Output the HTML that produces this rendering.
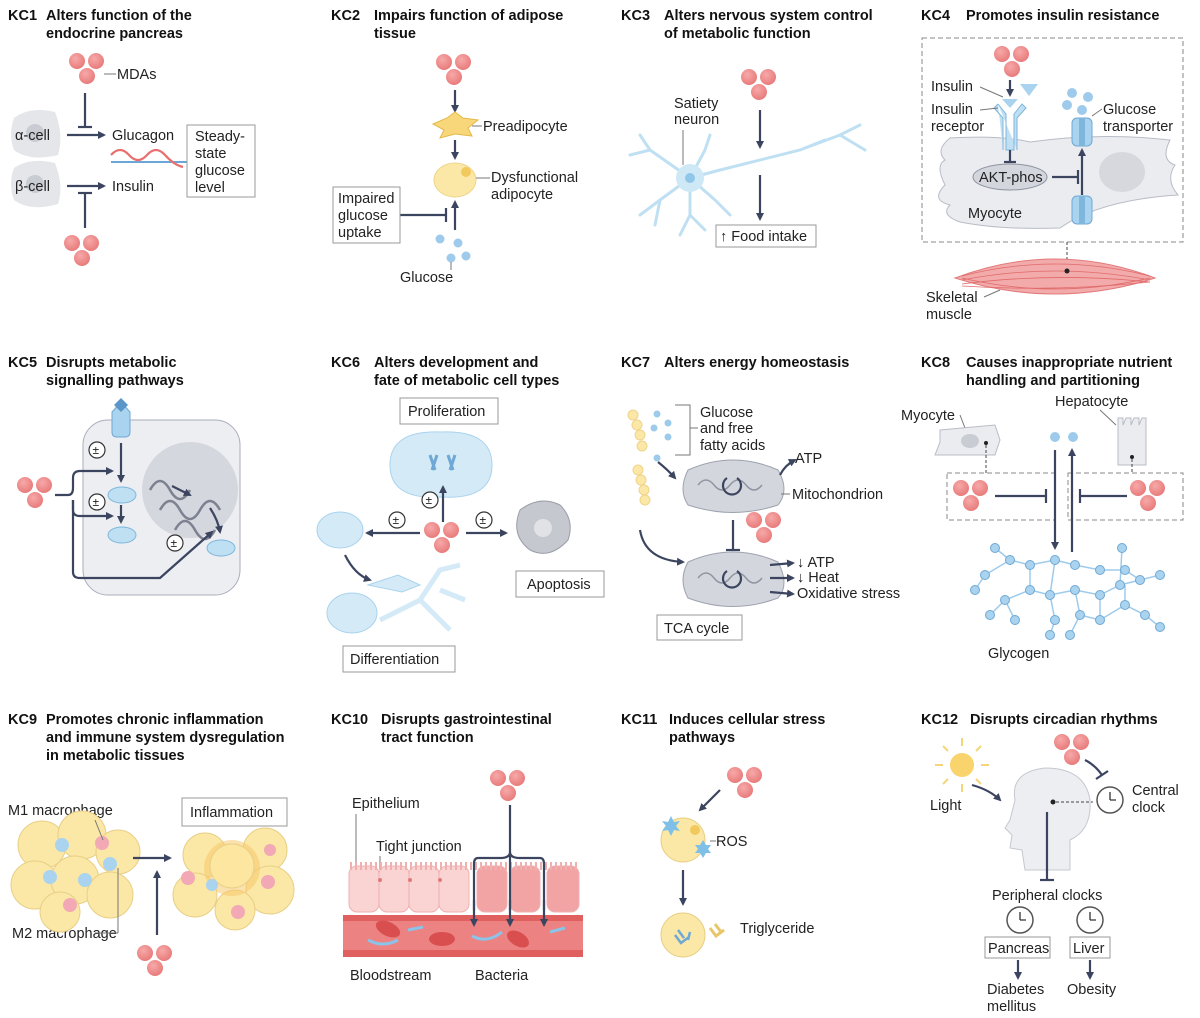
<!DOCTYPE html>
<html><head><meta charset="utf-8"><style>
html,body{margin:0;padding:0;background:#fff}
svg{display:block}
text{font-family:"Liberation Sans",sans-serif;font-size:14.5px;fill:#222}
.t{font-weight:bold;font-size:14.5px;fill:#111}
.a{stroke:#3c4560;stroke-width:2.2;fill:none}
.box{fill:#fff;stroke:#999;stroke-width:1}
.ln{stroke:#777;stroke-width:1;fill:none}
</style></head><body>
<svg width="1200" height="1018" viewBox="0 0 1200 1018" xmlns="http://www.w3.org/2000/svg">
<defs>
<marker id="ar" markerWidth="8" markerHeight="8" refX="6" refY="4" orient="auto" markerUnits="userSpaceOnUse"><path d="M0,0 L8,4 L0,8 z" fill="#3c4560"/></marker>
<radialGradient id="rg" cx="0.4" cy="0.35" r="0.7"><stop offset="0" stop-color="#f7a9a9"/><stop offset="1" stop-color="#e77878"/></radialGradient>
<g id="m"><circle cx="0" cy="0" r="8" fill="url(#rg)"/><circle cx="19" cy="0" r="8" fill="url(#rg)"/><circle cx="10" cy="15" r="8" fill="url(#rg)"/></g>
<g id="pm"><circle r="8" fill="#fff" stroke="#333" stroke-width="1.2"/><text x="-4.5" y="4" style="font-size:12px">±</text></g>
<g id="clk"><circle r="13" fill="#fff" stroke="#555" stroke-width="1.5"/><path d="M0,0 V-8 M0,0 H6" stroke="#333" stroke-width="1.3"/></g>
</defs>

<!-- KC1 -->
<text class="t" x="8" y="20">KC1</text><text class="t" x="46" y="20">Alters function of the</text><text class="t" x="46" y="38">endocrine pancreas</text>
<use href="#m" x="77" y="61"/><line class="ln" x1="104" y1="74" x2="116" y2="74"/><text x="117" y="79">MDAs</text>
<path d="M14,118 Q30,106 55,112 Q64,135 58,155 Q30,162 14,150 Q8,134 14,118z" fill="#e4e6ea"/><circle cx="35" cy="133" r="9" fill="#c9ccd3"/><text x="15" y="140">α-cell</text>
<path d="M14,168 Q30,157 55,163 Q64,186 58,204 Q30,212 14,200 Q8,184 14,168z" fill="#e4e6ea"/><circle cx="35" cy="184" r="9" fill="#c9ccd3"/><text x="15" y="191">β-cell</text>
<line class="a" x1="67" y1="135" x2="104" y2="135" marker-end="url(#ar)"/><text x="112" y="140">Glucagon</text>
<line class="a" x1="85" y1="93" x2="85" y2="127"/><line class="a" x1="78" y1="127" x2="92" y2="127"/>
<line class="a" x1="67" y1="186" x2="104" y2="186" marker-end="url(#ar)"/><text x="112" y="191">Insulin</text>
<line class="a" x1="85" y1="228" x2="85" y2="193"/><line class="a" x1="78" y1="193" x2="92" y2="193"/>
<use href="#m" x="72" y="243"/>
<line x1="111" y1="162" x2="187" y2="162" stroke="#6aa6d8" stroke-width="2"/>
<path d="M111,155 q9,-10 18,0 t18,0 t18,0 t18,12" stroke="#e76f6f" stroke-width="2.2" fill="none"/>
<path d="M111,155 q9,10 0,0" fill="none"/>
<rect class="box" x="187" y="125" width="68" height="72"/><text x="195" y="141">Steady-</text><text x="195" y="158">state</text><text x="195" y="175">glucose</text><text x="195" y="192">level</text>

<!-- KC2 -->
<text class="t" x="331" y="20">KC2</text><text class="t" x="374" y="20">Impairs function of adipose</text><text class="t" x="374" y="38">tissue</text>
<use href="#m" x="444" y="62"/>
<line class="a" x1="455" y1="90" x2="455" y2="111" marker-end="url(#ar)"/>
<path d="M433,124 L447,118 L455,112 L463,118 L478,120 L468,128 L472,136 L455,134 L440,138 L444,130z" fill="#f7d77a" stroke="#e4b94a"/>
<line class="ln" x1="472" y1="126" x2="482" y2="126"/><text x="483" y="131">Preadipocyte</text>
<line class="a" x1="455" y1="140" x2="455" y2="158" marker-end="url(#ar)"/>
<ellipse cx="455" cy="180" rx="21" ry="17" fill="#fbe7a6" stroke="#eed58a"/><circle cx="466" cy="172" r="5" fill="#f2c95e"/>
<line class="ln" x1="476" y1="178" x2="490" y2="178"/><text x="491" y="182">Dysfunctional</text><text x="491" y="199">adipocyte</text>
<line class="a" x1="455" y1="230" x2="455" y2="202" marker-end="url(#ar)"/>
<line class="a" x1="400" y1="215" x2="446" y2="215"/><line class="a" x1="446" y1="208" x2="446" y2="222"/>
<rect class="box" x="333" y="187" width="67" height="56"/><text x="338" y="203">Impaired</text><text x="338" y="220">glucose</text><text x="338" y="237">uptake</text>
<g fill="#9ecbeb"><circle cx="440" cy="239" r="4.5"/><circle cx="458" cy="243" r="4.5"/><circle cx="466" cy="256" r="4.5"/><circle cx="451" cy="258" r="4.5"/></g>
<line class="ln" x1="451" y1="262" x2="451" y2="270"/><text x="400" y="282">Glucose</text>

<!-- KC3 -->
<text class="t" x="621" y="20">KC3</text><text class="t" x="664" y="20">Alters nervous system control</text><text class="t" x="664" y="38">of metabolic function</text>
<text x="674" y="108">Satiety</text><text x="674" y="124">neuron</text><line class="ln" x1="683" y1="130" x2="683" y2="165"/>
<g stroke="#bfe0f3" stroke-width="3" fill="none" stroke-linecap="round">
<path d="M690,178 L650,150 L640,135 M650,150 L630,155 M690,178 L660,200 L640,215 M660,200 L655,225 M690,178 L690,215 L680,235 M690,215 L705,230 M690,178 L705,150 L710,135 M690,178 L720,170 L800,150 L840,135 L860,125 M840,135 L865,150 M800,150 L825,140 M690,178 L715,200 L730,215"/>
</g>
<circle cx="690" cy="178" r="14" fill="#cfe8f6"/><circle cx="690" cy="178" r="5" fill="#8fc6ea"/>
<use href="#m" x="749" y="77"/>
<line class="a" x1="760" y1="110" x2="760" y2="147" marker-end="url(#ar)"/>
<line class="a" x1="760" y1="175" x2="760" y2="219" marker-end="url(#ar)"/>
<rect class="box" x="716" y="225" width="100" height="22"/><text x="720" y="241">↑ Food intake</text>

<!-- KC4 -->
<text class="t" x="921" y="20">KC4</text><text class="t" x="966" y="20">Promotes insulin resistance</text>
<rect x="922" y="38" width="261" height="204" fill="none" stroke="#888" stroke-dasharray="5,3"/>
<path d="M950,138 Q1000,135 1030,142 Q1100,132 1170,140 Q1160,160 1175,165 Q1165,180 1178,195 Q1100,200 1060,228 Q1000,230 960,222 Q940,215 950,205 Q930,200 945,185 Q935,165 945,160 Q935,150 950,138z" fill="#eaecf0" stroke="#b8bcc6"/>
<ellipse cx="1122" cy="172" rx="23" ry="20" fill="#d6d8de"/>
<use href="#m" x="1002" y="54"/>
<line class="a" x1="1010" y1="80" x2="1010" y2="95" marker-end="url(#ar)"/>
<path d="M1002,99 L1018,99 L1010,108z" fill="#a9d3ee"/><path d="M1020,84 L1038,84 L1029,96z" fill="#a9d3ee"/>
<path d="M998,104 L1006,114 L1006,150 L1014,150 L1014,114 L1022,104 L1026,108 L1017,118 L1017,150 M998,104 L994,108 L1003,118 L1003,150" fill="#bfe0f3" stroke="#7fb6dc"/>
<text x="931" y="91">Insulin</text><line class="ln" x1="980" y1="87" x2="1003" y2="97"/>
<text x="931" y="114">Insulin</text><text x="931" y="131">receptor</text><line class="ln" x1="980" y1="110" x2="998" y2="108"/>
<line class="a" x1="1010" y1="150" x2="1010" y2="162"/><line class="a" x1="1004" y1="162" x2="1016" y2="162"/>
<ellipse cx="1010" cy="177" rx="37" ry="13" fill="#d3d6dd" stroke="#8e93a0"/><text x="979" y="182">AKT-phos</text>
<line class="a" x1="1052" y1="177" x2="1078" y2="177"/><line class="a" x1="1078" y1="170" x2="1078" y2="184"/>
<line class="a" x1="1082" y1="195" x2="1082" y2="150" marker-end="url(#ar)"/>
<rect x="1072" y="118" width="20" height="28" rx="5" fill="#a9d3ee" stroke="#6fa8d4"/><rect x="1079" y="118" width="6" height="28" fill="#7fb6dc"/>
<rect x="1072" y="196" width="20" height="28" rx="5" fill="#a9d3ee" stroke="#6fa8d4"/><rect x="1079" y="196" width="6" height="28" fill="#7fb6dc"/>
<g fill="#9ecbeb"><circle cx="1072" cy="93" r="5"/><circle cx="1088" cy="97" r="5"/><circle cx="1067" cy="105" r="5"/><circle cx="1082" cy="110" r="5"/></g>
<line class="ln" x1="1092" y1="116" x2="1102" y2="109"/><text x="1103" y="114">Glucose</text><text x="1103" y="131">transporter</text>
<text x="968" y="218">Myocyte</text>
<line x1="1067" y1="242" x2="1067" y2="270" stroke="#444" stroke-dasharray="3,2"/>
<path d="M955,278 Q1055,240 1155,278 Q1055,310 955,278z" fill="#f2aaaa" stroke="#e27c7c"/>
<g stroke="#e06b6b" stroke-width="0.8" fill="none"><path d="M962,276 Q1055,252 1150,276"/><path d="M962,280 Q1055,262 1150,280"/><path d="M962,284 Q1055,272 1150,282"/><path d="M962,286 Q1055,292 1150,282"/><path d="M962,278 Q1055,300 1150,278"/></g>
<circle cx="1067" cy="271" r="2.5" fill="#222"/>
<text x="926" y="302">Skeletal</text><text x="926" y="319">muscle</text><line class="ln" x1="984" y1="297" x2="1000" y2="290"/>

<!-- KC5 -->
<text class="t" x="8" y="367">KC5</text><text class="t" x="46" y="367">Disrupts metabolic</text><text class="t" x="46" y="385">signalling pathways</text>
<rect x="83" y="420" width="157" height="175" rx="25" fill="#eceef2" stroke="#a9aeba"/>
<circle cx="190" cy="490" r="48" fill="#d5d7de"/>
<g stroke="#7d8290" stroke-width="2.5" fill="none"><path d="M150,490 q10,-18 20,0 t20,0"/><path d="M160,510 q10,-18 20,0 t20,0 t20,0"/><path d="M175,530 q10,-18 20,0 t20,0"/></g>
<path d="M172,486 L190,495" class="a" marker-end="url(#ar)"/><path d="M210,508 Q218,520 220,532" class="a" marker-end="url(#ar)"/>
<path d="M112,412 L121,402 L130,412 L130,432 Q130,437 125,437 L117,437 Q112,437 112,432z" fill="#a9d3ee" stroke="#6fa8d4"/><path d="M121,398 L128,405 L121,412 L114,405z" fill="#5b96c8"/>
<line class="a" x1="121" y1="443" x2="121" y2="481" marker-end="url(#ar)"/>
<ellipse cx="122" cy="495" rx="14" ry="8" fill="#bfe0f3" stroke="#7fb6dc"/>
<line class="a" x1="121" y1="505" x2="121" y2="522" marker-end="url(#ar)"/>
<ellipse cx="122" cy="535" rx="14" ry="8" fill="#bfe0f3" stroke="#7fb6dc"/>
<ellipse cx="221" cy="548" rx="14" ry="8" fill="#bfe0f3" stroke="#7fb6dc"/>
<use href="#pm" x="97" y="450"/><use href="#pm" x="97" y="502"/><use href="#pm" x="175" y="543"/>
<use href="#m" x="25" y="485"/>
<path d="M55,495 L68,495 Q73,495 73,488 L73,478 Q73,471 80,471 L112,471" class="a" marker-end="url(#ar)"/>
<path d="M73,500 L73,510 Q73,516 80,516 L112,516" class="a" marker-end="url(#ar)"/>
<path d="M73,500 L73,572 Q73,578 80,578 L160,578 L212,532" class="a" marker-end="url(#ar)"/>

<!-- KC6 -->
<text class="t" x="331" y="367">KC6</text><text class="t" x="374" y="367">Alters development and</text><text class="t" x="374" y="385">fate of metabolic cell types</text>
<rect class="box" x="400" y="398" width="98" height="26"/><text x="408" y="416">Proliferation</text>
<path d="M441,432 Q390,430 390,465 Q390,500 441,497 Q492,500 492,465 Q492,430 441,432z" fill="#d4eaf7" stroke="#a9d3ee"/>
<g stroke="#6fa8d4" stroke-width="3"><path d="M430,455 l5,15 M437,455 l-5,15 M448,455 l5,15 M455,455 l-5,15"/></g>
<use href="#m" x="432" y="530"/>
<line class="a" x1="443" y1="522" x2="443" y2="487" marker-end="url(#ar)"/>
<line class="a" x1="420" y1="533" x2="367" y2="533" marker-end="url(#ar)"/>
<line class="a" x1="466" y1="533" x2="506" y2="533" marker-end="url(#ar)"/>
<use href="#pm" x="397" y="520"/><use href="#pm" x="484" y="520"/><use href="#pm" x="430" y="500"/>
<ellipse cx="340" cy="530" rx="23" ry="18" fill="#d4eaf7" stroke="#a9d3ee"/>
<path d="M345,555 Q355,575 370,580" class="a" marker-end="url(#ar)"/>
<path d="M368,585 L398,575 L420,585 L402,592z" fill="#d4eaf7" stroke="#a9d3ee"/>
<path d="M380,620 L420,600 L440,570 L460,565 M420,600 L440,620 L450,630 M440,590 L465,600" stroke="#d4eaf7" stroke-width="5" fill="none"/>
<ellipse cx="352" cy="613" rx="25" ry="20" fill="#d4eaf7" stroke="#a9d3ee"/>
<path d="M520,510 Q540,495 560,505 Q575,520 568,540 Q550,560 530,550 Q510,535 520,510z" fill="#c5c8cf" stroke="#9a9ea8"/><circle cx="543" cy="528" r="9" fill="#e0e2e6"/>
<rect class="box" x="516" y="571" width="88" height="26"/><text x="527" y="589">Apoptosis</text>
<rect class="box" x="343" y="646" width="112" height="26"/><text x="350" y="664">Differentiation</text>

<!-- KC7 -->
<text class="t" x="621" y="367">KC7</text><text class="t" x="664" y="367">Alters energy homeostasis</text>
<g fill="#fbe7a6" stroke="#efd48a"><circle cx="633" cy="415" r="5"/><circle cx="637" cy="425" r="5"/><circle cx="640" cy="435" r="5"/><circle cx="642" cy="446" r="5"/><circle cx="638" cy="470" r="5"/><circle cx="641" cy="480" r="5"/><circle cx="644" cy="490" r="5"/><circle cx="645" cy="500" r="5"/></g>
<g fill="#9ecbeb"><circle cx="657" cy="414" r="3.5"/><circle cx="668" cy="423" r="3.5"/><circle cx="654" cy="428" r="3.5"/><circle cx="668" cy="437" r="3.5"/><circle cx="657" cy="458" r="3.5"/></g>
<path d="M675,405 L690,405 L690,455 L675,455 M690,428 L698,428" class="ln"/>
<text x="700" y="417">Glucose</text><text x="700" y="433">and free</text><text x="700" y="450">fatty acids</text>
<path d="M658,462 Q668,470 675,478" class="a" marker-end="url(#ar)"/>
<path d="M688,470 Q733,450 778,470 Q790,490 778,505 Q733,520 688,505 Q678,490 688,470z" fill="#d3d6dd" stroke="#9da2ae"/>
<path d="M698,485 q8,-10 16,0 t16,0 t16,0 t16,0" stroke="#8f94a0" fill="none" stroke-width="1.5"/>
<path d="M727,478 a9,9 0 1 0 10,0" class="a"/>
<path d="M780,475 Q785,465 795,460" class="a" marker-end="url(#ar)"/><text x="795" y="463">ATP</text>
<text x="792" y="499">Mitochondrion</text><line class="ln" x1="781" y1="494" x2="790" y2="494"/>
<line class="a" x1="733" y1="520" x2="733" y2="550"/><line class="a" x1="726" y1="550" x2="740" y2="550"/>
<use href="#m" x="754" y="520"/>
<path d="M688,562 Q733,542 778,562 Q790,585 778,598 Q733,615 688,598 Q678,580 688,562z" fill="#d3d6dd" stroke="#9da2ae"/>
<path d="M698,578 q8,-10 16,0 t16,0 t16,0 t16,0" stroke="#8f94a0" fill="none" stroke-width="1.5"/>
<path d="M727,571 a9,9 0 1 0 10,0" class="a"/>
<path d="M640,530 Q645,560 683,562" class="a" marker-end="url(#ar)"/>
<line class="a" x1="770" y1="565" x2="793" y2="563" marker-end="url(#ar)"/><line class="a" x1="770" y1="578" x2="793" y2="578" marker-end="url(#ar)"/><line class="a" x1="770" y1="592" x2="793" y2="594" marker-end="url(#ar)"/>
<text x="797" y="567">↓ ATP</text><text x="797" y="582">↓ Heat</text><text x="797" y="598">Oxidative stress</text>
<rect class="box" x="657" y="615" width="85" height="25"/><text x="664" y="633">TCA cycle</text>

<!-- KC8 -->
<text class="t" x="921" y="367">KC8</text><text class="t" x="966" y="367">Causes inappropriate nutrient</text><text class="t" x="966" y="385">handling and partitioning</text>
<text x="901" y="420">Myocyte</text><line class="ln" x1="960" y1="415" x2="965" y2="428"/>
<path d="M940,430 L995,425 L1000,440 L995,455 L935,455 L940,442z" fill="#eaecf0" stroke="#b8bcc6"/><ellipse cx="970" cy="441" rx="9" ry="7" fill="#c9ccd3"/><circle cx="986" cy="443" r="2" fill="#222"/>
<text x="1055" y="406">Hepatocyte</text><line class="ln" x1="1100" y1="410" x2="1116" y2="425"/>
<path d="M1118,425 L1118,418 L1123,418 L1123,425 L1126,418 L1131,418 L1131,425 L1134,418 L1139,418 L1139,425 L1142,418 L1146,418 L1146,465 L1118,465z" fill="#eaecf0" stroke="#b8bcc6"/><circle cx="1132" cy="457" r="2" fill="#222"/>
<line x1="986" y1="445" x2="986" y2="473" stroke="#444" stroke-dasharray="3,2"/><line x1="1132" y1="459" x2="1132" y2="473" stroke="#444" stroke-dasharray="3,2"/>
<rect x="947" y="473" width="108" height="47" fill="none" stroke="#888" stroke-dasharray="5,3"/><rect x="1068" y="473" width="115" height="47" fill="none" stroke="#888" stroke-dasharray="5,3"/>
<use href="#m" x="961" y="488"/><use href="#m" x="1138" y="488"/>
<line class="a" x1="995" y1="496" x2="1046" y2="496"/><line class="a" x1="1046" y1="489" x2="1046" y2="503"/>
<line class="a" x1="1127" y1="496" x2="1080" y2="496"/><line class="a" x1="1080" y1="489" x2="1080" y2="503"/>
<circle cx="1055" cy="437" r="5" fill="#9ecbeb"/><circle cx="1073" cy="437" r="5" fill="#9ecbeb"/>
<line class="a" x1="1055" y1="450" x2="1055" y2="548" marker-end="url(#ar)"/><line class="a" x1="1072" y1="552" x2="1072" y2="450" marker-end="url(#ar)"/>
<g stroke="#9ecbeb" stroke-width="1.5" fill="none"><path d="M995,548 L1010,560 L1030,565 L1055,560 L1075,565 L1100,570 L1125,570 L1140,580 L1160,575 M1030,565 L1030,590 L1005,600 L990,615 M1030,590 L1050,595 L1075,590 L1100,595 L1120,585 L1140,580 M1055,560 L1050,595 L1055,620 L1050,635 M1075,590 L1080,615 L1100,620 L1125,605 L1145,615 L1160,627 M1100,595 L1100,620 M1125,605 L1125,585 M1010,560 L985,575 L975,590 M1005,600 L1015,620 M1080,615 L1070,635 M1120,585 L1122,548"/></g>
<g fill="#a9d3ee" stroke="#6fa8d4"><circle cx="995" cy="548" r="4.5"/><circle cx="1010" cy="560" r="4.5"/><circle cx="1030" cy="565" r="4.5"/><circle cx="1055" cy="560" r="4.5"/><circle cx="1075" cy="565" r="4.5"/><circle cx="1100" cy="570" r="4.5"/><circle cx="1125" cy="570" r="4.5"/><circle cx="1140" cy="580" r="4.5"/><circle cx="1160" cy="575" r="4.5"/><circle cx="1030" cy="590" r="4.5"/><circle cx="1005" cy="600" r="4.5"/><circle cx="990" cy="615" r="4.5"/><circle cx="1050" cy="595" r="4.5"/><circle cx="1075" cy="590" r="4.5"/><circle cx="1100" cy="595" r="4.5"/><circle cx="1120" cy="585" r="4.5"/><circle cx="1055" cy="620" r="4.5"/><circle cx="1050" cy="635" r="4.5"/><circle cx="1080" cy="615" r="4.5"/><circle cx="1100" cy="620" r="4.5"/><circle cx="1125" cy="605" r="4.5"/><circle cx="1145" cy="615" r="4.5"/><circle cx="1160" cy="627" r="4.5"/><circle cx="985" cy="575" r="4.5"/><circle cx="975" cy="590" r="4.5"/><circle cx="1015" cy="620" r="4.5"/><circle cx="1070" cy="635" r="4.5"/><circle cx="1122" cy="548" r="4.5"/></g>
<text x="988" y="658">Glycogen</text>

<!-- KC9 -->
<text class="t" x="8" y="724">KC9</text><text class="t" x="46" y="724">Promotes chronic inflammation</text><text class="t" x="46" y="742">and immune system dysregulation</text><text class="t" x="46" y="760">in metabolic tissues</text>
<text x="8" y="815">M1 macrophage</text><text x="12" y="938">M2 macrophage</text>
<g fill="#fbe7a6" stroke="#e8cf86"><circle cx="42" cy="845" r="24"/><circle cx="82" cy="835" r="24"/><circle cx="118" cy="852" r="22"/><circle cx="35" cy="885" r="24"/><circle cx="75" cy="880" r="24"/><circle cx="110" cy="895" r="23"/><circle cx="60" cy="912" r="20"/></g>
<g fill="#a9d3ee"><circle cx="62" cy="845" r="7"/><circle cx="50" cy="877" r="7"/><circle cx="85" cy="880" r="7"/><circle cx="110" cy="864" r="7"/></g>
<g fill="#f2a9b5"><circle cx="102" cy="843" r="7"/><circle cx="70" cy="905" r="7"/></g>
<line class="ln" x1="95" y1="820" x2="103" y2="840"/><line class="ln" x1="95" y1="933" x2="118" y2="933"/><line class="ln" x1="118" y1="933" x2="118" y2="868"/>
<line class="a" x1="133" y1="858" x2="170" y2="858" marker-end="url(#ar)"/>
<line class="a" x1="157" y1="935" x2="157" y2="872" marker-end="url(#ar)"/>
<use href="#m" x="145" y="953"/>
<rect class="box" x="182" y="798" width="105" height="28"/><text x="190" y="817">Inflammation</text>
<g fill="#fbe7a6" stroke="#e8cf86"><circle cx="205" cy="855" r="22"/><circle cx="265" cy="850" r="22"/><circle cx="195" cy="895" r="22"/><circle cx="270" cy="890" r="24"/><circle cx="235" cy="910" r="20"/></g>
<circle cx="232" cy="868" r="28" fill="#f7c96a" opacity="0.55"/><circle cx="232" cy="866" r="22" fill="#fde7a0" stroke="#e8cf86"/>
<g fill="#f2a9b5"><circle cx="188" cy="878" r="7"/><circle cx="268" cy="882" r="7"/><circle cx="238" cy="912" r="7"/><circle cx="270" cy="850" r="6"/></g>
<circle cx="212" cy="885" r="6" fill="#a9d3ee"/>

<!-- KC10 -->
<text class="t" x="331" y="724">KC10</text><text class="t" x="381" y="724">Disrupts gastrointestinal</text><text class="t" x="381" y="742">tract function</text>
<text x="352" y="808">Epithelium</text><line class="ln" x1="356" y1="814" x2="356" y2="868"/>
<text x="376" y="851">Tight junction</text><line class="ln" x1="380" y1="856" x2="380" y2="880"/>
<g stroke="#f0b0b0">
<rect x="349" y="866" width="30" height="46" rx="8" fill="#fad4d2"/><rect x="379" y="866" width="30" height="46" rx="8" fill="#fad4d2"/><rect x="409" y="866" width="30" height="46" rx="8" fill="#fad4d2"/><rect x="439" y="866" width="30" height="46" rx="8" fill="#fad4d2"/>
<rect x="477" y="866" width="30" height="46" rx="8" fill="#f2a4a4"/><rect x="510" y="866" width="30" height="46" rx="8" fill="#f2a4a4"/><rect x="547" y="866" width="32" height="46" rx="8" fill="#f2a4a4"/>
</g>
<path d="M350,866 h230" stroke="#f0b0b0" stroke-width="8" stroke-dasharray="2,3"/>
<g fill="#e07a7a"><circle cx="380" cy="880" r="2"/><circle cx="410" cy="880" r="2"/><circle cx="440" cy="880" r="2"/></g>
<rect x="343" y="915" width="240" height="42" fill="#ec8282"/><rect x="343" y="915" width="240" height="6" fill="#e06060"/><rect x="343" y="950" width="240" height="7" fill="#e06060"/>
<g fill="#d94f4f"><ellipse cx="388" cy="929" rx="13" ry="7" transform="rotate(25 388 929)"/><ellipse cx="442" cy="939" rx="13" ry="7"/><ellipse cx="518" cy="939" rx="12" ry="7" transform="rotate(30 518 939)"/></g>
<g stroke="#8cc3e8" stroke-width="3" fill="none"><path d="M368,940 q15,8 30,0"/><path d="M472,936 q15,8 30,-4"/><path d="M408,930 l15,-3"/><path d="M550,932 l15,-4"/></g>
<use href="#m" x="498" y="778"/>
<path d="M510,805 V910 M510,852 Q510,858 500,858 L478,858 Q474,858 474,864 L474,910 M510,852 Q510,858 520,858 L540,858 Q544,858 544,864 L544,910" class="a"/>
<line class="a" x1="474" y1="900" x2="474" y2="925" marker-end="url(#ar)"/><line class="a" x1="510" y1="900" x2="510" y2="925" marker-end="url(#ar)"/><line class="a" x1="544" y1="900" x2="544" y2="925" marker-end="url(#ar)"/>
<text x="350" y="980">Bloodstream</text><text x="475" y="980">Bacteria</text>

<!-- KC11 -->
<text class="t" x="621" y="724">KC11</text><text class="t" x="669" y="724">Induces cellular stress</text><text class="t" x="669" y="742">pathways</text>
<use href="#m" x="735" y="775"/>
<line class="a" x1="720" y1="790" x2="700" y2="810" marker-end="url(#ar)"/>
<circle cx="683" cy="840" r="22" fill="#fbe7a6" stroke="#e8cf86"/><circle cx="695" cy="830" r="5" fill="#f2c95e"/>
<g fill="#7fc0e8"><path d="M668,822 l3,-6 l3,6 l6,-1 l-4,5 l4,5 l-6,-1 l-3,6 l-3,-6 l-6,1 l4,-5 l-4,-5z"/><path d="M700,845 l3,-5 l3,5 l5,0 l-3,4 l3,4 l-5,0 l-3,5 l-3,-5 l-5,0 l3,-4 l-3,-4z"/></g>
<line class="ln" x1="710" y1="841" x2="716" y2="841"/><text x="716" y="846">ROS</text>
<line class="a" x1="683" y1="870" x2="683" y2="904" marker-end="url(#ar)"/>
<circle cx="683" cy="935" r="22" fill="#fbe7a6" stroke="#e8cf86"/>
<path d="M675,935 l6,8 l8,-6 M678,930 l6,8 M690,932 l-2,8" stroke="#6fa8d4" stroke-width="2.5" fill="none"/>
<path d="M710,928 l6,8 l8,-6 M715,924 l6,8" stroke="#e8c66a" stroke-width="3" fill="none"/>
<text x="740" y="933">Triglyceride</text>

<!-- KC12 -->
<text class="t" x="921" y="724">KC12</text><text class="t" x="970" y="724">Disrupts circadian rhythms</text>
<g stroke="#f5d57a" stroke-width="2"><path d="M962,738 V746 M962,784 V792 M935,765 H943 M981,765 H989 M943,746 l5,5 M976,779 l5,5 M943,784 l5,-5 M976,751 l5,-5"/></g>
<circle cx="962" cy="765" r="12" fill="#f9d36b"/>
<text x="930" y="810">Light</text>
<path d="M972,785 Q990,790 1000,800" class="a" marker-end="url(#ar)"/>
<path d="M1015,800 Q1010,772 1045,768 Q1085,768 1090,800 Q1092,830 1070,840 L1070,870 L1025,870 L1022,850 L1010,848 L1012,835 L1005,828 L1010,820z" fill="#eceef2" stroke="#c5c8cf"/>
<circle cx="1053" cy="802" r="2.5" fill="#222"/><line x1="1056" y1="802" x2="1093" y2="802" stroke="#444" stroke-dasharray="3,2"/>
<use href="#clk" x="1110" y="800"/><text x="1132" y="795">Central</text><text x="1132" y="812">clock</text>
<use href="#m" x="1062" y="742"/>
<path d="M1085,760 Q1095,765 1102,775" class="a"/><line class="a" x1="1096" y1="779" x2="1108" y2="771"/>
<line class="a" x1="1047" y1="812" x2="1047" y2="880"/><line class="a" x1="1040" y1="880" x2="1054" y2="880"/>
<text x="992" y="900">Peripheral clocks</text>
<use href="#clk" x="1020" y="920"/><use href="#clk" x="1090" y="920"/>
<rect class="box" x="985" y="937" width="65" height="21"/><text x="988" y="953">Pancreas</text>
<rect class="box" x="1070" y="937" width="40" height="21"/><text x="1073" y="953">Liver</text>
<line class="a" x1="1018" y1="960" x2="1018" y2="978" marker-end="url(#ar)"/><line class="a" x1="1090" y1="960" x2="1090" y2="978" marker-end="url(#ar)"/>
<text x="987" y="994">Diabetes</text><text x="987" y="1011">mellitus</text><text x="1067" y="994">Obesity</text>
</svg>
</body></html>
